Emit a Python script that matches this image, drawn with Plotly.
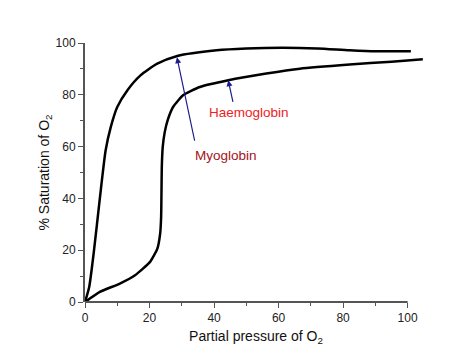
import plotly.graph_objects as go

# Myoglobin (upper, hyperbolic curve)
myo_x = [0, 1.3, 2.8, 4.6, 6.4, 8.0, 10.0, 13.1, 17.2, 22.4, 28.6, 40.8, 50, 61.4, 72, 82, 90, 101]
myo_y = [0, 5.8, 20, 40, 58.6, 67.6, 75.3, 81.7, 87.5, 92.0, 95.0, 97.2, 97.9, 98.2, 97.9, 97.2, 96.8, 96.8]

# Haemoglobin (lower, sigmoid curve)
hb_x = [0, 4.6, 10.8, 15.5, 20.1, 22.4, 23.3, 23.6, 23.7, 23.8, 24.1, 24.7, 25.7, 27.3, 30.4, 35.6, 44.4, 56.2, 66.6, 82, 95, 104.7]
hb_y = [0, 3.9, 7.1, 10.3, 15.4, 20.5, 26.5, 33.0, 42.0, 52.0, 60.0, 65.5, 70.5, 75.3, 79.8, 83.0, 85.6, 88.2, 90.1, 91.7, 92.8, 93.7]

x_ticks = [0, 20, 40, 60, 80, 100]
y_ticks = [0, 20, 40, 60, 80, 100]

FONT = "Liberation Sans, Arial, sans-serif"
AX = "#555555"

fig = go.Figure()
fig.add_trace(go.Scatter(x=myo_x, y=myo_y, mode="lines",
                         line=dict(color="black", width=2.5, shape="spline", smoothing=0.6),
                         showlegend=False, hoverinfo="skip"))
fig.add_trace(go.Scatter(x=hb_x, y=hb_y, mode="lines",
                         line=dict(color="black", width=2.5, shape="spline", smoothing=0.5),
                         showlegend=False, hoverinfo="skip"))

fig.update_layout(
    width=474, height=362,
    margin=dict(l=77, r=55, t=35, b=68),
    paper_bgcolor="white", plot_bgcolor="white",
    font=dict(family=FONT, size=12, color="#222222"),
    xaxis=dict(range=[0, 106], tickvals=x_ticks, showline=False, showgrid=False, zeroline=False,
               ticks="outside", ticklen=5, tickwidth=1.3, tickcolor=AX,
               minor=dict(tickvals=[10, 30, 50, 70, 90], ticks="outside", ticklen=3, tickcolor=AX, tickwidth=1.3),
               tickfont=dict(size=12, color="#222222"),
               title=dict(text="Partial pressure of O<sub>2</sub>", font=dict(size=14, color="#111111"), standoff=6)),
    yaxis=dict(range=[0, 100], tickvals=y_ticks, showline=True, linecolor=AX, linewidth=2,
               showgrid=False, zeroline=False,
               ticks="outside", ticklen=5, tickwidth=1.3, tickcolor=AX,
               minor=dict(tickvals=[10, 30, 50, 70, 90], ticks="outside", ticklen=3, tickcolor=AX, tickwidth=1.3),
               tickfont=dict(size=12, color="#222222"),
               title=dict(text="% Saturation of O<sub>2</sub>", font=dict(size=14, color="#111111"), standoff=3)),
)

# x-axis line only spanning 0..100
fig.add_shape(type="line", xref="x", yref="paper", x0=0, x1=100, y0=0, y1=0,
              line=dict(color=AX, width=2), layer="above")

fig.add_annotation(x=44.4, y=85.6, ax=5, ay=23, xref="x", yref="y",
                   text="", showarrow=True, arrowhead=2, arrowsize=1, arrowwidth=1.2,
                   arrowcolor="#1c1c8c", standoff=0)
fig.add_annotation(x=28.5, y=94.5, ax=18, ay=85, xref="x", yref="y",
                   text="", showarrow=True, arrowhead=2, arrowsize=1, arrowwidth=1.2,
                   arrowcolor="#1c1c8c", standoff=0)
fig.add_annotation(x=50.9, y=73.2, text="Haemoglobin", showarrow=False,
                   font=dict(size=13.5, color="#ee1c25", family=FONT))
fig.add_annotation(x=43.7, y=56.6, text="Myoglobin", showarrow=False,
                   font=dict(size=13.5, color="#a3141c", family=FONT))

fig.write_html("out.html")
